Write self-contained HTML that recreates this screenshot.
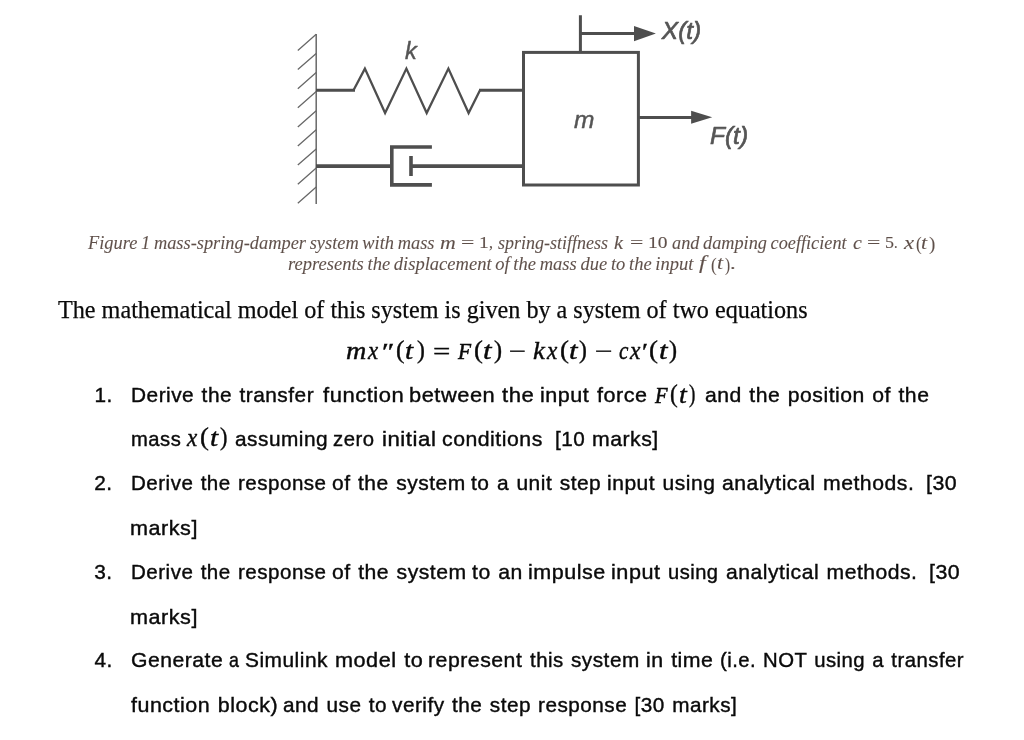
<!DOCTYPE html>
<html><head><meta charset="utf-8">
<style>
html,body{margin:0;padding:0;background:#fff;}
body{width:1024px;height:740px;position:relative;overflow:hidden;font-family:"Liberation Serif",serif;color:#000;}
.w{position:absolute;white-space:pre;line-height:1;transform-origin:0 0;display:block;}
#T{position:absolute;left:0;top:0;width:1024px;height:740px;filter:grayscale(1);}
#C{position:absolute;left:0;top:225px;width:1024px;height:60px;filter:url(#cap);color:#000;}
.ci{font-family:"Liberation Serif",serif;font-style:italic;font-size:18px;color:#000;word-spacing:-0.9px;-webkit-text-stroke:0.1px #000;}
.cm{font-family:"Liberation Serif",serif;font-style:italic;font-size:18.5px;color:#000;-webkit-text-stroke:0.12px #000;}
.cr{font-family:"Liberation Serif",serif;font-style:normal;font-size:17.6px;color:#000;-webkit-text-stroke:0.15px #000;}
.bd{font-family:"Liberation Serif",serif;font-size:24.6px;color:#0a0a0a;-webkit-text-stroke:0.25px #0a0a0a;}
.ei{font-family:"Liberation Serif",serif;font-style:italic;font-size:25.5px;color:#0a0a0a;-webkit-text-stroke:0.4px #0a0a0a;}
.eF{font-family:"Liberation Serif",serif;font-style:italic;font-size:24px;color:#0a0a0a;-webkit-text-stroke:0.6px #0a0a0a;}
.er{font-family:"Liberation Serif",serif;font-style:normal;font-size:24px;color:#0a0a0a;-webkit-text-stroke:0.4px #0a0a0a;}
.ep{font-family:"Liberation Serif",serif;font-style:normal;font-size:25.5px;color:#0a0a0a;-webkit-text-stroke:0.4px #0a0a0a;}
.cp{font-family:"Liberation Serif",serif;font-style:normal;font-size:19px;color:#000;-webkit-text-stroke:0.1px #000;}
.li{font-family:"Liberation Sans",sans-serif;font-size:20.8px;color:#0a0a0a;letter-spacing:0.5px;word-spacing:1.1px;-webkit-text-stroke:0.4px #0a0a0a;}
.mi{font-family:"Liberation Serif",serif;font-style:italic;font-size:21.5px;color:#0a0a0a;}
.mr{font-family:"Liberation Serif",serif;font-style:normal;font-size:21.5px;color:#0a0a0a;}
svg{position:absolute;left:0;top:0;}
svg text{font-family:"Liberation Sans",sans-serif;font-style:italic;fill:#555;}
</style></head><body>
<svg width="0" height="0" style="position:absolute"><defs><filter id="cap" x="0" y="0" width="100%" height="100%" color-interpolation-filters="sRGB"><feColorMatrix type="matrix" values="0.1342 0.4516 0.0456 0 0.3686 0.1467 0.4936 0.0498 0 0.3098 0.1517 0.5105 0.0515 0 0.2863 0 0 0 1 0"/></filter></defs></svg>
<div id="T">
<svg width="1024" height="230" viewBox="0 0 1024 230" fill="none" stroke="#4e4e4c" stroke-linecap="butt" stroke-linejoin="miter">
<g stroke-width="1.5" stroke="#68686a">
<line x1="316.2" y1="33.9" x2="316.2" y2="203.9"/>
<path d="M316.2 34.3L297.8 50.5M316.2 53.4L297.8 69.6M316.2 72.5L297.8 88.7M316.2 91.6L297.8 107.8M316.2 110.7L297.8 126.9M316.2 129.8L297.8 146.0M316.2 148.9L297.8 165.1M316.2 168.0L297.8 184.2M316.2 187.1L297.8 203.3" stroke-width="1.3"/>
</g>
<path d="M316 90.2H355M479 90.2H523.5" stroke-width="3"/>
<path d="M353.5 90.2L364.9 68.6L385.1 113.1L406.4 68.6L426.7 113.1L448.4 68.6L468.6 113.1L480 90.2" stroke-width="2.3"/>
<g stroke-width="3.6">
<path d="M316 166.1H391.8"/>
<path d="M431.9 147H391.8V184.9H431.9"/>
<path d="M411 156.1V176M411 166.1H523.5"/>
</g>
<g stroke-width="3">
<rect x="523.5" y="52.4" width="114.9" height="132.6"/>
<path d="M580.4 15.3V52.4M580.4 33.5H636"/>
<path d="M638.4 117.5H693"/>
</g>
<path d="M634 26L655.9 33.6L634 41.2Z" fill="#4e4e4c" stroke="none"/>
<path d="M691.1 110.8L712.2 117.3L691.1 123.8Z" fill="#4e4e4c" stroke="none"/>
<g stroke="#555" stroke-width="0.45" stroke-linejoin="round">
<text x="405" y="58.6" font-size="23.5">k</text>
<text x="574" y="127.6" font-size="24.5">m</text>
<text x="661.8" y="38.9" font-size="24.5" stroke-width="0.7">X(t)</text>
<text x="710" y="143.5" font-size="24.5" stroke-width="0.7">F(t)</text>
</g>
</svg>
<span class="w bd" id="w24" style="left:57.80px;top:298px;transform:translateY(0.20px) scaleX(0.9825);">The mathematical model of this system is given by a system of two equations</span>
<span class="w ei" id="w25" style="left:346.31px;top:338px;transform:translateY(0.04px) scaleX(1.1044);">m</span>
<span class="w ei" id="w26" style="left:367.71px;top:338px;transform:translateY(0.04px) scaleX(0.8986);">x</span>
<span class="w er" id="w27" style="left:381.53px;top:339px;transform:translateY(0.30px) scaleX(1.2476);">″</span>
<span class="w ei" id="w28" style="left:405.06px;top:338px;transform:translateY(0.04px) scaleX(1.1429);">t</span>
<span class="w er" id="w29" style="left:432.92px;top:339px;transform:translateY(0.30px) scaleX(1.2820);">=</span>
<span class="w eF" id="w30" style="left:457.60px;top:339px;transform:translateY(0.30px) scaleX(0.8902);">F</span>
<span class="w ei" id="w31" style="left:483.20px;top:338px;transform:translateY(0.04px) scaleX(1.2072);">t</span>
<span class="w er" id="w32" style="left:508.93px;top:339px;transform:translateY(0.30px) scaleX(1.2528);">−</span>
<span class="w ei" id="w33" style="left:532.82px;top:338px;transform:translateY(0.04px) scaleX(1.0502);">k</span>
<span class="w ei" id="w34" style="left:546.51px;top:338px;transform:translateY(0.04px) scaleX(0.9129);">x</span>
<span class="w ei" id="w35" style="left:568.98px;top:338px;transform:translateY(0.04px) scaleX(1.2072);">t</span>
<span class="w er" id="w36" style="left:594.52px;top:339px;transform:translateY(0.30px) scaleX(1.2994);">−</span>
<span class="w ei" id="w37" style="left:618.80px;top:338px;transform:translateY(0.04px) scaleX(0.8343);">c</span>
<span class="w ei" id="w38" style="left:629.52px;top:338px;transform:translateY(0.04px) scaleX(0.9202);">x</span>
<span class="w er" id="w39" style="left:642.13px;top:339px;transform:translateY(0.30px) scaleX(1.1526);">′</span>
<span class="w ei" id="w40" style="left:658.60px;top:338px;transform:translateY(0.04px) scaleX(1.2072);">t</span>
<span class="w ep" id="w41" style="left:396.46px;top:337px;transform:translateY(0.44px) scaleX(0.9983);">(</span>
<span class="w ep" id="w42" style="left:474.22px;top:337px;transform:translateY(0.44px) scaleX(1.0472);">(</span>
<span class="w ep" id="w43" style="left:559.97px;top:337px;transform:translateY(0.44px) scaleX(1.0564);">(</span>
<span class="w ep" id="w44" style="left:648.57px;top:337px;transform:translateY(0.44px) scaleX(1.0564);">(</span>
<span class="w ep" id="w45" style="left:416.61px;top:337px;transform:translateY(0.44px) scaleX(0.9261);">)</span>
<span class="w ep" id="w46" style="left:493.61px;top:337px;transform:translateY(0.44px) scaleX(0.9492);">)</span>
<span class="w ep" id="w47" style="left:579.20px;top:337px;transform:translateY(0.44px) scaleX(0.9261);">)</span>
<span class="w ep" id="w48" style="left:669.00px;top:337px;transform:translateY(0.44px) scaleX(0.9492);">)</span>
<span class="w li" id="w49" style="left:94.55px;top:385px;transform:translateY(0.39px) scaleX(1.0000);">1.</span>
<span class="w li" id="w50" style="left:94.20px;top:472px;transform:translateY(0.95px) scaleX(1.0000);">2.</span>
<span class="w li" id="w51" style="left:94.20px;top:561px;transform:translateY(0.51px) scaleX(1.0000);">3.</span>
<span class="w li" id="w52" style="left:94.48px;top:650px;transform:translateY(0.07px) scaleX(1.0000);">4.</span>
<span class="w li" id="w53" style="left:130.60px;top:385px;transform:translateY(0.39px) scaleX(1.0017);">Derive the transfer</span>
<span class="w li" id="w54" style="left:322.80px;top:385px;transform:translateY(0.39px) scaleX(1.0576);">function</span>
<span class="w li" id="w55" style="left:409.35px;top:385px;transform:translateY(0.39px) scaleX(1.0502);">between</span>
<span class="w li" id="w56" style="left:502.00px;top:385px;transform:translateY(0.39px) scaleX(1.0626);">the</span>
<span class="w li" id="w57" style="left:540.36px;top:385px;transform:translateY(0.39px) scaleX(1.0371);">input force</span>
<span class="w li" id="w58" style="left:705.25px;top:385px;transform:translateY(0.39px) scaleX(1.0175);">and the position of the</span>
<span class="w li" id="w59" style="left:130.63px;top:428px;transform:translateY(0.67px) scaleX(0.9720);">mass</span>
<span class="w li" id="w60" style="left:234.93px;top:428px;transform:translateY(0.67px) scaleX(1.0014);">assuming</span>
<span class="w li" id="w61" style="left:333.19px;top:428px;transform:translateY(0.67px) scaleX(0.9751);">zero</span>
<span class="w li" id="w62" style="left:381.94px;top:428px;transform:translateY(0.67px) scaleX(1.0679);">initial</span>
<span class="w li" id="w63" style="left:441.92px;top:428px;transform:translateY(0.67px) scaleX(1.0215);">conditions</span>
<span class="w li" id="w64" style="left:555.41px;top:428px;transform:translateY(0.67px) scaleX(0.9937);">[10</span>
<span class="w li" id="w65" style="left:592.18px;top:428px;transform:translateY(0.67px) scaleX(1.0204);">marks]</span>
<span class="w eF" id="w66" style="left:654.98px;top:382px;transform:translateY(0.90px) scaleX(0.8546);">F</span>
<span class="w ep" id="w67" style="left:669.98px;top:381px;transform:translateY(0.14px) scaleX(0.9150);">(</span>
<span class="w ei" id="w68" style="left:679.17px;top:381px;transform:translateY(0.64px) scaleX(1.0973);">t</span>
<span class="w ep" id="w69" style="left:689.20px;top:381px;transform:translateY(0.14px) scaleX(0.7500);">)</span>
<span class="w ei" id="w70" style="left:187.31px;top:424px;transform:translateY(0.92px) scaleX(0.9075);">x</span>
<span class="w ep" id="w71" style="left:200.02px;top:424px;transform:translateY(0.42px) scaleX(1.0472);">(</span>
<span class="w ei" id="w72" style="left:210.28px;top:424px;transform:translateY(0.92px) scaleX(1.1491);">t</span>
<span class="w ep" id="w73" style="left:220.00px;top:424px;transform:translateY(0.42px) scaleX(0.8750);">)</span>
<span class="w li" id="w74" style="left:130.61px;top:472px;transform:translateY(0.95px) scaleX(0.9883);">Derive the response</span>
<span class="w li" id="w75" style="left:331.89px;top:472px;transform:translateY(0.95px) scaleX(1.0099);">of the system</span>
<span class="w li" id="w76" style="left:471.20px;top:472px;transform:translateY(0.95px) scaleX(1.0067);">to a unit step</span>
<span class="w li" id="w77" style="left:607.19px;top:472px;transform:translateY(0.95px) scaleX(1.0112);">input using</span>
<span class="w li" id="w78" style="left:721.64px;top:472px;transform:translateY(0.95px) scaleX(1.0194);">analytical methods.</span>
<span class="w li" id="w79" style="left:925.97px;top:472px;transform:translateY(0.95px) scaleX(1.0278);">[30</span>
<span class="w li" id="w80" style="left:130.16px;top:518px;transform:translateY(0.23px) scaleX(1.0392);">marks]</span>
<span class="w li" id="w81" style="left:130.61px;top:561px;transform:translateY(0.51px) scaleX(0.9883);">Derive the response</span>
<span class="w li" id="w82" style="left:331.87px;top:561px;transform:translateY(0.51px) scaleX(1.0173);">of the system</span>
<span class="w li" id="w83" style="left:471.80px;top:561px;transform:translateY(0.51px) scaleX(1.0184);">to an</span>
<span class="w li" id="w84" style="left:528.16px;top:561px;transform:translateY(0.51px) scaleX(1.0355);">impulse</span>
<span class="w li" id="w85" style="left:611.16px;top:561px;transform:translateY(0.51px) scaleX(1.0407);">input</span>
<span class="w li" id="w86" style="left:667.64px;top:561px;transform:translateY(0.51px) scaleX(0.9667);">using</span>
<span class="w li" id="w87" style="left:725.66px;top:561px;transform:translateY(0.51px) scaleX(1.0152);">analytical methods.</span>
<span class="w li" id="w88" style="left:929.18px;top:561px;transform:translateY(0.51px) scaleX(1.0270);">[30</span>
<span class="w li" id="w89" style="left:130.16px;top:606px;transform:translateY(0.79px) scaleX(1.0392);">marks]</span>
<span class="w li" id="w90" style="left:130.69px;top:650px;transform:translateY(0.07px) scaleX(1.0172);">Generate</span>
<span class="w li" id="w91" style="left:229.40px;top:650px;transform:translateY(0.07px) scaleX(0.8582);">a</span>
<span class="w li" id="w92" style="left:244.50px;top:650px;transform:translateY(0.07px) scaleX(1.0048);">Simulink</span>
<span class="w li" id="w93" style="left:334.56px;top:650px;transform:translateY(0.07px) scaleX(1.0411);">model to</span>
<span class="w li" id="w94" style="left:427.77px;top:650px;transform:translateY(0.07px) scaleX(1.0212);">represent</span>
<span class="w li" id="w95" style="left:530.41px;top:650px;transform:translateY(0.07px) scaleX(0.9796);">this</span>
<span class="w li" id="w96" style="left:571.20px;top:650px;transform:translateY(0.07px) scaleX(0.9975);">system</span>
<span class="w li" id="w97" style="left:645.98px;top:650px;transform:translateY(0.07px) scaleX(1.0248);">in time</span>
<span class="w li" id="w98" style="left:720.22px;top:650px;transform:translateY(0.07px) scaleX(0.9742);">(i.e.</span>
<span class="w li" id="w99" style="left:762.62px;top:650px;transform:translateY(0.07px) scaleX(0.9764);">NOT using a transfer</span>
<span class="w li" id="w100" style="left:130.60px;top:695px;transform:translateY(0.35px) scaleX(1.0312);">function block)</span>
<span class="w li" id="w101" style="left:282.76px;top:695px;transform:translateY(0.35px) scaleX(0.9983);">and use to</span>
<span class="w li" id="w102" style="left:392.35px;top:695px;transform:translateY(0.35px) scaleX(0.9993);">verify the step</span>
<span class="w li" id="w103" style="left:537.80px;top:695px;transform:translateY(0.35px) scaleX(0.9958);">response [30 marks]</span>
</div>
<div id="C">
<span class="w ci" id="w0" style="left:88.22px;top:9px;transform:translateY(0.03px) scaleX(1.0210);">Figure 1 mass-spring-damper system with mass</span>
<span class="w cm" id="w1" style="left:440.35px;top:8px;transform:translateY(0.61px) scaleX(1.1798);">m</span>
<span class="w cr" id="w2" style="left:461.08px;top:9px;transform:translateY(0.36px) scaleX(1.3416);">=</span>
<span class="w cr" id="w3" style="left:478.50px;top:9px;transform:translateY(0.36px) scaleX(1.1035);">1</span>
<span class="w cr" id="w4" style="left:488.74px;top:9px;transform:translateY(0.36px) scaleX(0.9123);">,</span>
<span class="w ci" id="w5" style="left:498.40px;top:9px;transform:translateY(0.03px) scaleX(0.9990);">spring-stiffness</span>
<span class="w cm" id="w6" style="left:613.98px;top:8px;transform:translateY(0.61px) scaleX(1.0870);">k</span>
<span class="w cr" id="w7" style="left:629.82px;top:9px;transform:translateY(0.36px) scaleX(1.3416);">=</span>
<span class="w cr" id="w8" style="left:647.90px;top:9px;transform:translateY(0.36px) scaleX(1.1101);">10</span>
<span class="w ci" id="w9" style="left:671.98px;top:9px;transform:translateY(0.03px) scaleX(1.0140);">and damping coefficient</span>
<span class="w cm" id="w10" style="left:852.90px;top:8px;transform:translateY(0.61px) scaleX(1.0729);">c</span>
<span class="w cr" id="w11" style="left:867.06px;top:9px;transform:translateY(0.36px) scaleX(1.3403);">=</span>
<span class="w cr" id="w12" style="left:884.73px;top:9px;transform:translateY(0.36px) scaleX(1.0194);">5</span>
<span class="w cr" id="w13" style="left:893.86px;top:9px;transform:translateY(0.36px) scaleX(0.8205);">.</span>
<span class="w cm" id="w14" style="left:903.74px;top:8px;transform:translateY(0.61px) scaleX(1.2290);">x</span>
<span class="w cm" id="w15" style="left:921.03px;top:8px;transform:translateY(0.61px) scaleX(1.1917);">t</span>
<span class="w cp" id="w16" style="left:915.61px;top:8px;transform:translateY(0.99px) scaleX(0.8974);">(</span>
<span class="w cp" id="w17" style="left:928.55px;top:8px;transform:translateY(0.99px) scaleX(0.9940);">)</span>
<span class="w ci" id="w18" style="left:287.89px;top:29px;transform:translateY(0.73px) scaleX(1.0289);">represents the displacement of the mass due to the input</span>
<span class="w cm" id="w19" style="left:698.84px;top:29px;transform:translateY(0.31px) scaleX(1.3172);">f</span>
<span class="w cm" id="w20" style="left:717.00px;top:29px;transform:translateY(0.31px) scaleX(1.1865);">t</span>
<span class="w cr" id="w21" style="left:730.41px;top:30px;transform:translateY(0.06px) scaleX(1.2802);">.</span>
<span class="w cp" id="w22" style="left:710.63px;top:29px;transform:translateY(0.69px) scaleX(0.8974);">(</span>
<span class="w cp" id="w23" style="left:725.41px;top:29px;transform:translateY(0.69px) scaleX(0.8057);">)</span>
</div>
</body></html>
